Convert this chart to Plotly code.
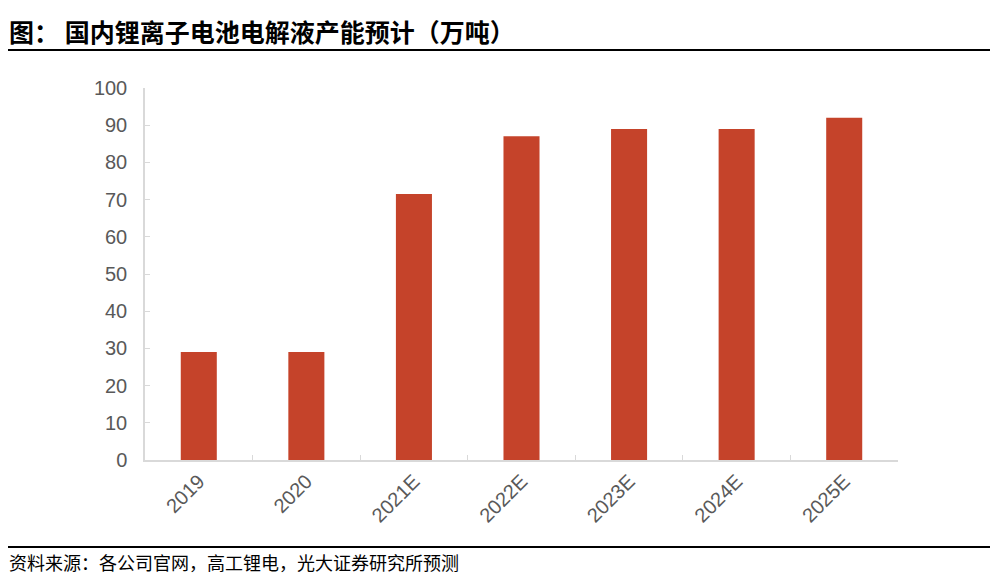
import plotly.graph_objects as go

categories = ["2019", "2020", "2021E", "2022E", "2023E", "2024E", "2025E"]
capacity = [29, 29, 71.5, 87, 89, 89, 92]
y_ticks = [0, 10, 20, 30, 40, 50, 60, 70, 80, 90, 100]

title_text = "图：&nbsp;国内锂离子电池电解液产能预计（万吨）"
source_text = "资料来源：各公司官网，高工锂电，光大证券研究所预测"

OFF = 8  # page body margin offset
W, H = 1000, 586
L, T = 145 - OFF, 88 - OFF
pw, ph = 753, 372
R = W - L - pw
B = H - T - ph

def px_x(x):
    return (x - OFF - L) / pw

def px_y(y):
    return (T + ph - (y - OFF)) / ph

fig = go.Figure()
fig.add_trace(go.Bar(
    x=categories, y=capacity,
    marker=dict(color="#C5432A", line=dict(width=0)),
    width=0.335,
))

fig.update_layout(
    width=W, height=H,
    margin=dict(l=L, r=R, t=T, b=B),
    plot_bgcolor="white", paper_bgcolor="white",
    showlegend=False,
    font=dict(family="Liberation Sans, Arial, sans-serif", color="#595959"),
    xaxis=dict(
        type="category",
        showline=True, linecolor="#d9d9d9", linewidth=1.5,
        ticks="inside", tickson="boundaries", ticklen=5, tickcolor="#d9d9d9",
        tickangle=-45, tickfont=dict(size=20, color="#595959"),
        showgrid=False, zeroline=False,
    ),
    yaxis=dict(
        range=[0, 100], tickvals=y_ticks,
        showline=True, linecolor="#d9d9d9", linewidth=1.5,
        ticks="inside", ticklen=5, tickcolor="#d9d9d9",
        tickfont=dict(size=20, color="#595959"),
        ticklabelstandoff=12,
        showgrid=False, zeroline=False,
    ),
)

fig.add_shape(type="line", xref="paper", yref="paper",
              x0=px_x(8), x1=px_x(990), y0=px_y(50), y1=px_y(50),
              line=dict(color="#000000", width=2))
fig.add_shape(type="line", xref="paper", yref="paper",
              x0=px_x(8), x1=px_x(990), y0=px_y(547), y1=px_y(547),
              line=dict(color="#000000", width=2))

fig.add_annotation(text="<b>" + title_text + "</b>", xref="paper", yref="paper",
                   x=px_x(7), y=px_y(31), xanchor="left", yanchor="middle",
                   showarrow=False,
                   font=dict(family="Noto Sans CJK SC", size=25, color="#000000"))
fig.add_annotation(text=source_text, xref="paper", yref="paper",
                   x=px_x(7), y=px_y(562), xanchor="left", yanchor="middle",
                   showarrow=False,
                   font=dict(family="Noto Sans CJK SC", size=18, color="#000000"))

fig.write_html("out.html")
